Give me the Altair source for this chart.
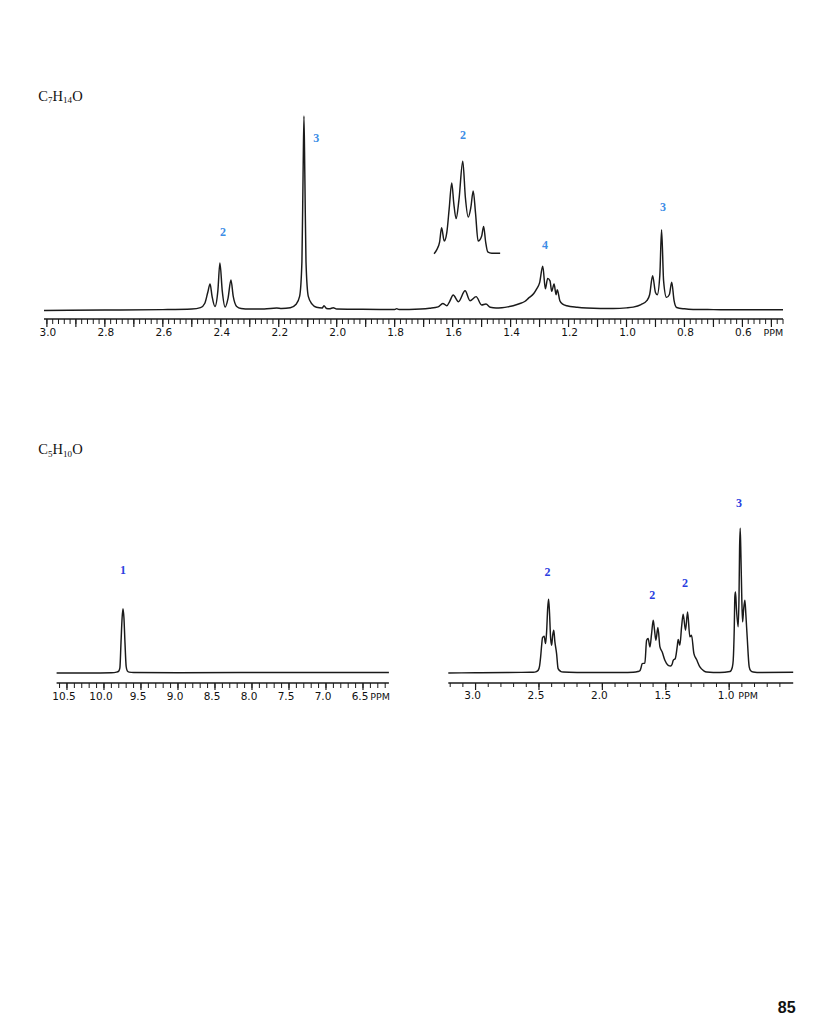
import altair as alt
import pandas as pd

# ---------------- C7H14O spectrum (ppm, relative intensity) ----------------
top_ppm = [3.01, 2.80, 2.60, 2.50, 2.47, 2.455, 2.445, 2.437, 2.43, 2.42, 2.41, 2.403,
           2.395, 2.385, 2.375, 2.365, 2.357, 2.345, 2.33, 2.30, 2.25, 2.207, 2.19,
           2.16, 2.14, 2.128, 2.12, 2.116, 2.113, 2.110, 2.106, 2.098, 2.085, 2.07,
           2.05, 2.044, 2.035, 2.025, 2.012, 2.0, 1.95, 1.85, 1.80, 1.793, 1.785,
           1.75, 1.71, 1.68, 1.65, 1.634, 1.62, 1.61, 1.598, 1.58, 1.557, 1.54,
           1.519, 1.50, 1.485, 1.47, 1.45, 1.43, 1.41, 1.391, 1.37, 1.35, 1.339,
           1.32, 1.31, 1.30, 1.289, 1.28, 1.272, 1.264, 1.258, 1.25, 1.243, 1.239,
           1.23, 1.22, 1.206, 1.17, 1.137, 1.09, 1.046, 1.00, 0.977, 0.95, 0.93,
           0.92, 0.91, 0.90, 0.894, 0.885, 0.879, 0.872, 0.862, 0.852, 0.844, 0.836,
           0.827, 0.80, 0.77, 0.70, 0.60, 0.46]
top_int = [-0.3, 0.0, 0.2, 0.5, 1.2, 3.5, 9.0, 13.4, 7.0, 1.8, 10.0, 24.3,
           10.0, 1.5, 6.0, 15.5, 7.0, 1.8, 0.8, 0.5, 0.5, 1.0, 0.8,
           1.2, 3.0, 7.0, 25.0, 70.0, 100.0, 70.0, 25.0, 7.0, 3.0, 1.4,
           1.0, 2.2, 0.8, 0.6, 1.2, 0.5, 0.4, 0.3, 0.3, 0.7, 0.3,
           0.3, 0.5, 0.9, 1.6, 3.4, 2.2, 4.5, 7.7, 4.3, 9.9, 4.8,
           6.9, 2.6, 3.1, 1.4, 1.0, 1.2, 1.6, 2.2, 3.2, 4.5, 6.0,
           8.5, 10.9, 14.0, 22.6, 10.9, 16.3, 15.0, 9.6, 13.4, 7.9, 10.5,
           4.8, 3.0, 2.2, 1.4, 1.0, 0.8, 0.8, 1.1, 1.5, 2.8, 4.8,
           8.0, 17.7, 9.0, 7.9, 18.0, 41.4, 15.0, 6.5, 8.0, 14.3, 5.0,
           1.3, 0.6, 0.3, 0.2, 0.1, 0.1]

# vertically expanded insert of the 1.6 ppm quintet
inset_ppm = [1.664, 1.655, 1.645, 1.638, 1.629, 1.620, 1.612, 1.603, 1.596, 1.588,
             1.578, 1.565, 1.556, 1.546, 1.537, 1.529, 1.521, 1.512, 1.500, 1.493,
             1.486, 1.479, 1.465, 1.436]
inset_int = [29.0, 31.0, 35.0, 42.4, 35.5, 40.0, 52.0, 65.5, 55.0, 47.1,
             57.0, 76.7, 58.0, 47.9, 53.0, 61.4, 50.0, 35.5, 38.0, 43.1,
             35.0, 30.0, 29.3, 29.3]

top_note_text = ["2", "3", "2", "4", "3"]
top_note_ppm = [2.392, 2.071, 1.564, 1.281, 0.874]
top_note_int = [40.2, 88.7, 90.2, 33.5, 53.1]

top_tick_labels = [3.0, 2.8, 2.6, 2.4, 2.2, 2.0, 1.8, 1.6, 1.4, 1.2, 1.0, 0.8, 0.6]
top_major_ticks = [round(3.0 - 0.1 * k, 1) for k in range(26)]
top_minor_ticks = [round(3.0 - 0.02 * k, 2) for k in range(128)]

# ---------------- C5H10O spectrum, 10.6 - 6.2 ppm ----------------
bl_ppm = [10.64, 10.2, 9.90, 9.83, 9.80, 9.785, 9.77, 9.755, 9.743, 9.73, 9.716,
          9.70, 9.685, 9.66, 9.60, 9.0, 8.0, 7.0, 6.15]
bl_int = [0.0, 0.0, 0.2, 0.6, 1.3, 3.5, 20.8, 38.0, 44.5, 38.0, 20.8,
          4.5, 1.5, 0.6, 0.3, 0.2, 0.3, 0.3, 0.4]
bl_note_text = ["1"]
bl_note_ppm = [9.743]
bl_note_int = [71.2]
bl_tick_labels = [10.5, 10.0, 9.5, 9.0, 8.5, 8.0, 7.5, 7.0, 6.5]
bl_major_ticks = bl_tick_labels
bl_minor_ticks = [round(10.6 - 0.1 * k, 1) for k in range(45)]

# ---------------- C5H10O spectrum, 3.2 - 0.5 ppm ----------------
br_ppm = [3.215, 3.0, 2.75, 2.546, 2.52, 2.506, 2.495, 2.487, 2.478, 2.472, 2.459,
          2.448, 2.44, 2.431, 2.424, 2.417, 2.408, 2.400, 2.392, 2.383, 2.375,
          2.361, 2.349, 2.33, 2.309, 2.2, 2.0, 1.80, 1.757, 1.72, 1.704, 1.694,
          1.686, 1.665, 1.651, 1.639, 1.625, 1.612, 1.599, 1.589, 1.578, 1.562,
          1.546, 1.528, 1.507, 1.481, 1.462, 1.450, 1.441, 1.425, 1.41, 1.402,
          1.389, 1.375, 1.363, 1.344, 1.328, 1.31, 1.297, 1.278, 1.257, 1.231,
          1.20, 1.178, 1.073, 0.994, 0.975, 0.968, 0.960, 0.955, 0.950, 0.943,
          0.929, 0.922, 0.918, 0.913, 0.907, 0.900, 0.894, 0.886, 0.876, 0.868,
          0.858, 0.842, 0.83, 0.811, 0.75, 0.495]
br_int = [0.0, 0.2, 0.4, 0.5, 1.0, 1.9, 5.0, 11.0, 20.0, 24.5, 25.4,
          20.3, 28.0, 45.0, 51.0, 42.0, 24.0, 19.2, 26.0, 29.6, 22.0,
          13.4, 3.0, 1.2, 0.7, 0.4, 0.3, 0.4, 0.5, 1.0, 1.6, 4.0,
          6.5, 6.8, 22.6, 23.8, 18.0, 27.0, 36.5, 30.0, 22.6, 31.4,
          18.0, 14.5, 8.8, 5.3, 4.8, 6.0, 8.8, 10.0, 18.0, 23.1,
          19.2, 32.0, 40.6, 29.6, 42.2, 25.0, 26.1, 13.4, 9.3, 4.2,
          1.5, 0.7, 0.3, 1.0, 4.0, 8.8, 30.0, 53.0, 56.0, 45.0,
          31.9, 55.0, 85.0, 100.0, 80.0, 50.0, 35.3, 44.0, 50.3, 40.0,
          25.0, 4.2, 1.5, 0.7, 0.3, 0.5]
br_note_text = ["2", "2", "2", "3"]
br_note_ppm = [2.432, 1.607, 1.349, 0.923]
br_note_int = [70.0, 53.9, 62.4, 117.7]
br_tick_labels = [3.0, 2.5, 2.0, 1.5, 1.0]
br_major_ticks = br_tick_labels
br_minor_ticks = [round(3.2 - 0.1 * k, 1) for k in range(27)]

W, H = 820, 1008
INK = "#1a1a1a"
TICK_FONT = "DejaVu Sans"


def panel(ppm, inten, notes, note_color, xdomain, xrange, yrange,
          minor, major, labels, axis_y, minor_len, major_len, label_y, label_dx,
          ppm_label_x, extra=None):
    xs = alt.Scale(domain=xdomain, range=xrange, nice=False, zero=False)
    ys = alt.Scale(domain=[0, 100], range=yrange, nice=False, zero=False)
    X = alt.X("ppm:Q", scale=xs, axis=None)
    Y = alt.Y("i:Q", scale=ys, axis=None)

    df = pd.DataFrame({"ppm": ppm, "i": inten})
    layers = [alt.Chart(df).transform_window(idx="row_number()").mark_line(
        color=INK, strokeWidth=1.45, interpolate="monotone").encode(
        x=X, y=Y, order=alt.Order("idx:Q"))]
    if extra is not None:
        edf = pd.DataFrame({"ppm": extra[0], "i": extra[1]})
        layers.append(alt.Chart(edf).transform_window(idx="row_number()").mark_line(
            color=INK, strokeWidth=1.45, interpolate="monotone").encode(
            x=X, y=Y, order=alt.Order("idx:Q")))

    ndf = pd.DataFrame({"ppm": notes[1], "i": notes[2], "t": notes[0]})
    layers.append(alt.Chart(ndf).mark_text(
        font="Liberation Serif", fontWeight="bold", fontSize=12, color=note_color,
        baseline="middle", align="center").encode(x=X, y=Y, text="t:N"))

    # axis: domain line, minor ticks, major ticks, labels, "PPM"
    dom = pd.DataFrame({"ppm": [xdomain[0]], "ppm2": [xdomain[1]]})
    layers.append(alt.Chart(dom).mark_rule(color=INK, strokeWidth=1.3).encode(
        x=X, x2="ppm2:Q", y=alt.value(axis_y)))
    layers.append(alt.Chart(pd.DataFrame({"ppm": minor})).mark_rule(
        color=INK, strokeWidth=1).encode(
        x=X, y=alt.value(axis_y), y2=alt.value(axis_y + minor_len)))
    layers.append(alt.Chart(pd.DataFrame({"ppm": major})).mark_rule(
        color=INK, strokeWidth=1.2).encode(
        x=X, y=alt.value(axis_y), y2=alt.value(axis_y + major_len)))
    ldf = pd.DataFrame({"ppm": labels, "t": [f"{v:.1f}" for v in labels]})
    layers.append(alt.Chart(ldf).mark_text(
        font=TICK_FONT, fontSize=10.5, color="#111", baseline="middle", align="center",
        dx=label_dx).encode(x=X, y=alt.value(label_y), text="t:N"))
    pdf = pd.DataFrame({"ppm": [ppm_label_x], "t": ["PPM"]})
    layers.append(alt.Chart(pdf).mark_text(
        font=TICK_FONT, fontSize=9.5, color="#111", baseline="middle", align="center").encode(
        x=X, y=alt.value(label_y), text="t:N"))
    return alt.layer(*layers)


top_panel = panel(
    top_ppm, top_int, (top_note_text, top_note_ppm, top_note_int), "#3d8de6",
    [3.01, 0.46], [36, 775], [302, 108],
    top_minor_ticks, top_major_ticks, top_tick_labels, 311, 5, 8, 325, 1,
    0.493, extra=(inset_ppm, inset_int),
)
bl_panel = panel(
    bl_ppm, bl_int, (bl_note_text, bl_note_ppm, bl_note_int), "#2a3ee0",
    [10.64, 6.15], [48.6, 380.9], [665, 520.3],
    bl_minor_ticks, bl_major_ticks, bl_tick_labels, 675, 5, 7, 688.7, -3,
    6.27,
)
br_panel = panel(
    br_ppm, br_int, (br_note_text, br_note_ppm, br_note_int), "#2a3ee0",
    [3.215, 0.495], [440.3, 785.2], [665, 520.3],
    br_minor_ticks, br_major_ticks, br_tick_labels, 675, 4, 7, 688, -3,
    0.85,
)


def formula(pieces, x0, base):
    out = []
    x = x0
    one = pd.DataFrame({"a": [0]})
    for txt, sub in pieces:
        size = 9 if sub else 14.5
        out.append(alt.Chart(one).mark_text(text=txt, font="Liberation Serif", fontSize=size,
                                            color="#111", align="left", baseline="alphabetic").encode(
            x=alt.value(x), y=alt.value(base + (2.5 if sub else 0))))
        x += (4.6 * len(txt)) if sub else {"C": 9.7, "H": 10.5, "O": 10.5}[txt]
    return out


title1 = formula([("C", False), ("7", True), ("H", False), ("14", True), ("O", False)], 30.3, 92.7)
title2 = formula([("C", False), ("5", True), ("H", False), ("10", True), ("O", False)], 30.3, 446)

page_no = alt.Chart(pd.DataFrame({"a": [0]})).mark_text(
    text="85", font="Liberation Sans", fontWeight="bold", fontSize=16, color="#111",
    align="center", baseline="alphabetic").encode(x=alt.value(778.7), y=alt.value(1005.3))

chart = alt.layer(top_panel, bl_panel, br_panel, *title1, *title2, page_no).resolve_scale(
    x="independent", y="independent"
).properties(
    width=W, height=H, autosize=alt.AutoSizeParams(type="none"), padding=0,
    background="white",
).configure_view(stroke=None)

chart.save("out.html", embed_options={"renderer": "svg", "actions": False})
